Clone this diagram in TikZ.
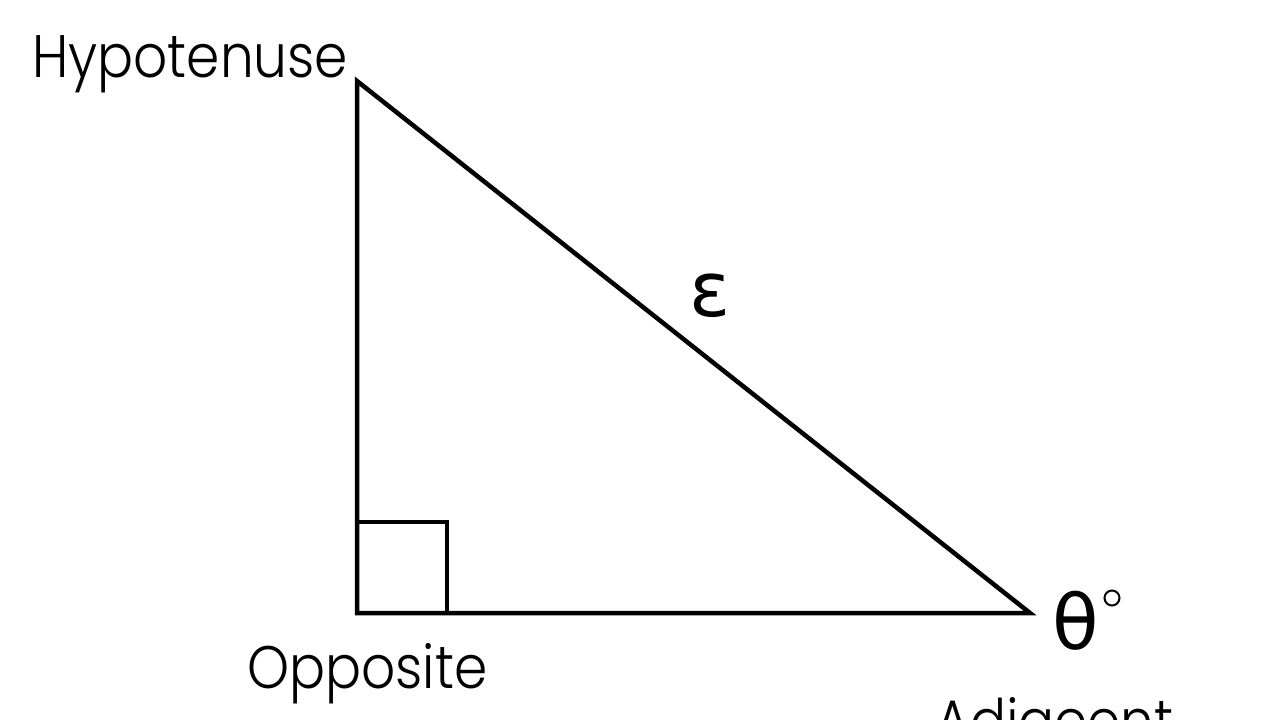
\documentclass[tikz,border=0pt]{standalone}
\usepackage{fontspec}
\setmainfont{Poppins}[UprightFont=* Light]
\newfontfamily\greekfont{DejaVu Sans}
\newcommand{\narrowtext}[1]{\scalebox{0.89}[1]{#1}}
\begin{document}
\begin{tikzpicture}[x=1pt,y=-1pt,
  edge/.style={line width=4.5pt, line join=miter},
  lbl/.style={inner sep=0pt, font=\fontsize{60}{62}\selectfont},
  grk/.style={inner sep=0pt, font=\greekfont\fontsize{76}{80}\selectfont}]
\useasboundingbox (0,0) rectangle (1280,720);
\coordinate (T) at (357,81);
\coordinate (B) at (357,613);
\coordinate (R) at (1030,613);
\draw[edge] (T) -- (B) -- (R) -- cycle;
\coordinate (S1) at (357,522);
\coordinate (S2) at (447,522);
\coordinate (S3) at (447,613);
\draw[edge] (S1) -- (S2) -- (S3);
\node[lbl, anchor=base west] (hyp) at (32,77) {\narrowtext{Hypotenuse}};
\node[lbl, anchor=base west] (opp) at (247,688) {\narrowtext{Opposite}};
\node[lbl, anchor=base west] (adj) at (935,742) {\narrowtext{Adjacent}};
\node[grk, anchor=base west] (theta) at (1052,649) {θ};
\node[inner sep=0pt, draw, line width=2pt, circle, minimum size=15pt] (deg) at (1112,598) {};
\node[grk, anchor=center] (eps) at (710,296) {ε};
\end{tikzpicture}
\end{document}
